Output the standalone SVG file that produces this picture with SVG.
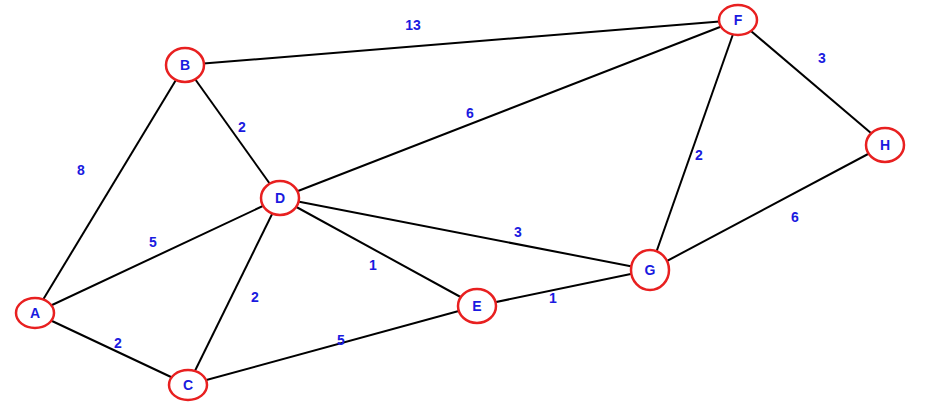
<svg xmlns="http://www.w3.org/2000/svg" width="935" height="411" viewBox="0 0 935 411">
<style>
.e{stroke:#000;stroke-width:2;fill:none}
.n ellipse{fill:#fff;stroke:#e82020;stroke-width:2.5}
.n text{font-family:"Liberation Sans",Arial,sans-serif;font-weight:bold;font-size:14px;fill:#1a1ae0;text-anchor:middle;dominant-baseline:central}
.w{font-family:"Liberation Sans",Arial,sans-serif;font-weight:bold;font-size:14px;fill:#1a1ae0;text-anchor:middle;dominant-baseline:central}
</style>
<rect width="935" height="411" fill="#fff"/>
<g id="connectors">
<line class="e" x1="185" y1="65" x2="738" y2="20"/>
<line class="e" x1="738" y1="20" x2="885" y2="145"/>
<line class="e" x1="280" y1="198" x2="738" y2="20"/>
<line class="e" x1="185" y1="65" x2="280" y2="198"/>
<line class="e" x1="185" y1="65" x2="35" y2="313"/>
<line class="e" x1="738" y1="20" x2="650" y2="270"/>
<line class="e" x1="35" y1="313" x2="280" y2="198"/>
<line class="e" x1="280" y1="198" x2="650" y2="270"/>
<line class="e" x1="650" y1="270" x2="885" y2="145"/>
<line class="e" x1="280" y1="198" x2="477" y2="306"/>
<line class="e" x1="280" y1="198" x2="188" y2="385"/>
<line class="e" x1="477" y1="306" x2="650" y2="270"/>
<line class="e" x1="35" y1="313" x2="188" y2="385"/>
<line class="e" x1="188" y1="385" x2="477" y2="306"/>
<text class="w" x="413" y="25">13</text>
<text class="w" x="822" y="58">3</text>
<text class="w" x="470" y="113">6</text>
<text class="w" x="242" y="127">2</text>
<text class="w" x="81" y="170">8</text>
<text class="w" x="699" y="155">2</text>
<text class="w" x="153" y="242">5</text>
<text class="w" x="518" y="232">3</text>
<text class="w" x="795" y="217">6</text>
<text class="w" x="373" y="265">1</text>
<text class="w" x="255" y="297">2</text>
<text class="w" x="553" y="298">1</text>
<text class="w" x="118" y="343">2</text>
<text class="w" x="341" y="340">5</text>
</g>
<g id="B" class="n"><ellipse cx="185" cy="65" rx="19" ry="17"/><text x="185" y="65">B</text></g>
<g id="F" class="n"><ellipse cx="738" cy="20" rx="19" ry="15"/><text x="738" y="20">F</text></g>
<g id="H" class="n"><ellipse cx="885" cy="145" rx="19" ry="17"/><text x="885" y="145">H</text></g>
<g id="D" class="n"><ellipse cx="280" cy="198" rx="19" ry="17"/><text x="280" y="198">D</text></g>
<g id="A" class="n"><ellipse cx="35" cy="313" rx="19" ry="15"/><text x="35" y="313">A</text></g>
<g id="C" class="n"><ellipse cx="188" cy="385" rx="19" ry="15"/><text x="188" y="385">C</text></g>
<g id="E" class="n"><ellipse cx="477" cy="306" rx="19" ry="17"/><text x="477" y="306">E</text></g>
<g id="G" class="n"><ellipse cx="650" cy="270" rx="19" ry="20"/><text x="650" y="270">G</text></g>
</svg>
